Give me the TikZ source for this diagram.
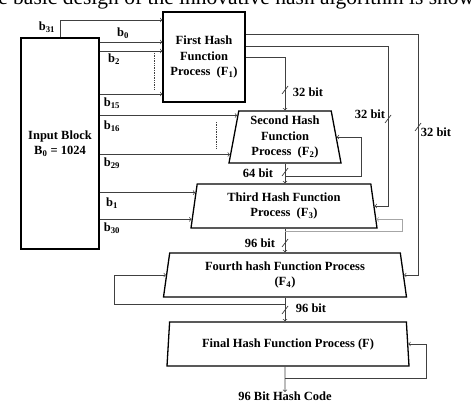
\documentclass[tikz,border=0pt]{standalone}
\usepackage{fontspec}
\setmainfont{Liberation Serif}
\usetikzlibrary{positioning}
\usetikzlibrary{shapes.geometric}
\usetikzlibrary{calc}
\newcommand\bitslash[1]{
  \draw[wire] ($(#1)+(-3,4)$) -- ++(6,-8);
}

\begin{document}
\begin{tikzpicture}[x=1pt, y=-1pt,
		blk/.style={draw, line width=1.3pt, align=center, inner sep=0, font=\fontsize{12.5}{15.5}\selectfont\bfseries},
		trap/.style={blk, trapezium, trapezium angle=77, trapezium stretches body},
		wire/.style={black!75, line width=0.7pt},
		lab/.style={inner sep=0, font=\fontsize{12.5}{15}\selectfont\bfseries}]
	    		\useasboundingbox (0,0) rectangle (474,404);
	    		\clip (0,0) rectangle (474,404);
	    		\node[anchor=base west, inner sep=0, font=\fontsize{21.5}{24}\selectfont] (caption) at (13,5) {\llap{the }basic design of the innovative hash algorithm is shown};
	    		\node[blk, minimum width=78, minimum height=211] (in) at (60,143.5) {Input Block\\B\textsubscript{0} = 1024};
	    		\node[blk, minimum width=82, minimum height=90] (f1) at (204,57) {First Hash\\Function\\Process~ (F\textsubscript{1})};
	    		\node[trap, minimum width=112, minimum height=52] (f2) at (285,137) {Second Hash\\Function\\Process~ (F\textsubscript{2})};
	    		\node[trap, minimum width=186, minimum height=44] (f3) at (284,206) {Third Hash Function\\Process~ (F\textsubscript{3})};
	    		\node[trap, minimum width=243, minimum height=44] (f4) at (285,275) {Fourth hash Function Process\\(F\textsubscript{4})};
	    		\node[trap, minimum width=242, minimum height=44] (f5) at (288,344) {Final Hash Function Process (F)};
	    		\node[lab] (code) at (285,396.5) {96 Bit Hash Code};
	    		% block bits into F1
	    		\draw[wire, ->] (in.north) |- (f1.west |- 0,20);
	    		\draw[wire, ->] (in.east |- 0,42) -- (f1.west |- 0,42);
	    		\draw[wire, ->] (in.east |- 0,51) -- (f1.west |- 0,51);
	    		\draw[wire, ->] (in.east |- 0,94) -- (f1.west |- 0,94);
	    		\draw[wire, densely dotted] (154,53) -- (154,90);
	    		\node[lab] (lb31) at (47,27) {b\textsubscript{31}};
	    		\node[lab] (lb0) at (123,33) {b\textsubscript{0}};
	    		\node[lab] (lb2) at (114,59) {b\textsubscript{2}};
	    		\node[lab] (lb15) at (112,103) {b\textsubscript{15}};
	    		% block bits into F2 and F3
	    		\coordinate (f2in1) at ($(f2.bottom left corner)!0.904!(f2.top left corner)$);
	    		\coordinate (f2in2) at ($(f2.bottom left corner)!0.173!(f2.top left corner)$);
	    		\coordinate (f3in1) at ($(f3.bottom left corner)!0.795!(f3.top left corner)$);
	    		\coordinate (f3in2) at ($(f3.bottom left corner)!0.205!(f3.top left corner)$);
	    		\draw[wire, ->] (in.east |- f2in1) -- (f2in1);
	    		\draw[wire, ->] (in.east |- f2in2) -- (f2in2);
	    		\draw[wire, ->] (in.east |- f3in1) -- (f3in1);
	    		\draw[wire, ->] (in.east |- f3in2) -- (f3in2);
	    		\draw[wire, densely dotted] (216,122) -- (216,148);
	    		\node[lab] (lb16) at (112,126) {b\textsubscript{16}};
	    		\node[lab] (lb29) at (112,163) {b\textsubscript{29}};
	    		\node[lab] (lb1) at (112,203) {b\textsubscript{1}};
	    		\node[lab] (lb30) at (112,228) {b\textsubscript{30}};
	    		% outputs of F1
	    		\draw[wire, ->] (f1.east |- 0,34) -- (418,34) |- (f4.east);
	    		\draw[wire, ->] (f1.east |- 0,46) -- (388,46) |- (f3.east);
	    		\draw[wire, ->] (f1.east) -| (f2.north);
	    		\coordinate (s1) at (418,127);
	    		\coordinate (s2) at (388,119);
	    		\coordinate (s3) at (285,90);
	    		\bitslash{s1}
	    		\bitslash{s2}
	    		\bitslash{s3}
	    		\node[lab] (l1) at (436,132) {32 bit};
	    		\node[lab] (l2) at (370,114) {32 bit};
	    		\node[lab] (l3) at (308,92) {32 bit};
	    		% chain with feedback
	    		\draw[wire, ->] (f2.south) -- (f2.south |- f3.north);
	    		\draw[wire, ->] (f3.south -| f2.south) -- (f2.south |- f4.north);
	    		\draw[wire, ->] (f4.south) -- (f4.south |- f5.north);
	    		\draw[wire, ->] (f4.south |- f5.south) -- (code.north);
	    		\coordinate (f2out) at ($(f2.south)+(0,13)$);
	    		\coordinate (f3out) at ($(f3.south -| f2.south)+(0,3)$);
	    		\coordinate (f4out) at ($(f4.south)+(0,7)$);
	    		\coordinate (f5out) at ($(f4.south |- f5.south)+(0,12)$);
	    		\coordinate (f3fb) at ($(f3.bottom right corner)!0.205!(f3.top right corner)$);
	    		\draw[wire, ->] (f2out) -| ([xshift=25pt]f2.east) -- (f2.east);
	    		\draw[wire, black!35, ->] (f3out) -| ([xshift=26pt]f3fb) -- (f3fb);
	    		\draw[wire, ->] (f4out) -| ([xshift=-52pt]f4.west) -- (f4.west);
	    		\draw[wire, ->] (f5out) -| ([xshift=18pt]f5.east) -- (f5.east);
	    		\coordinate (s4) at (285,172);
	    		\coordinate (s5) at (285,243);
	    		\coordinate (s6) at (285,310);
	    		\bitslash{s4}
	    		\bitslash{s5}
	    		\bitslash{s6}
	    		\node[lab] (l4) at (258,173) {64 bit};
	    		\node[lab] (l5) at (260,243) {96 bit};
	    		\node[lab] (l6) at (311,308) {96 bit};
			\end{tikzpicture}
\end{document}
